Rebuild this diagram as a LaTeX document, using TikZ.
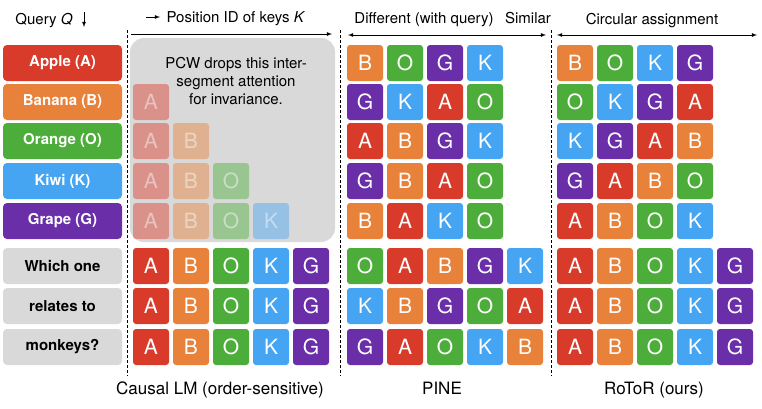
\documentclass[tikz,border=0pt]{standalone}
\usepackage{fontspec}
\setmainfont{TeX Gyre Heros}
\begin{document}
\begin{tikzpicture}[x=1pt,y=-1pt,
 cell/.style={rounded corners=3pt,minimum width=36pt,minimum height=36pt,text=white,font=\fontsize{21}{21}\selectfont,inner sep=0pt},
 lab/.style={rounded corners=4pt,minimum width=119pt,minimum height=36pt,text=white,font=\bfseries\fontsize{15}{15}\selectfont,inner sep=0pt},
 dl/.style={densely dashed,line width=0.6pt},
 hd/.style={font=\fontsize{15}{15}\selectfont,anchor=base},
 ar/.style={line width=0.8pt,-latex}]
\definecolor{cA}{HTML}{D93B2B}\definecolor{cB}{HTML}{E8823A}\definecolor{cO}{HTML}{4DAD3A}
\definecolor{cK}{HTML}{45A5F2}\definecolor{cG}{HTML}{6A2FA8}\definecolor{gr}{HTML}{D9D9D9}
\useasboundingbox (0,0) rectangle (762,408);
\def\ys{{63,102,141,181,221,266,306,347}}
% labels
\foreach \t/\c/\i in {Apple (A)/cA/0,Banana (B)/cB/1,Orange (O)/cO/2,Kiwi (K)/cK/3,Grape (G)/cG/4}{
 \pgfmathsetmacro\yy{\ys[\i]}
 \node[lab,fill=\c] (l\i) at (62.5,\yy) {\t};}
\foreach \t/\i in {Which one/5,relates to/6,monkeys?/7}{
 \pgfmathsetmacro\yy{\ys[\i]}
 \node[lab,fill=gr,text=black] (l\i) at (62.5,\yy) {\t};}
% gray region
\node[fill=gr,rounded corners=14pt,minimum width=205pt,minimum height=204pt,inner sep=0pt] (pcw) at (232.5,140) {};
\node[font=\fontsize{15}{18}\selectfont,align=center] (pcwt) at (236,81) {PCW drops this inter-\\segment attention\\for invariance.};
% helper
\newcommand\rowcells[4]{% x0, rowidx, list, opacity
 \pgfmathsetmacro\yy{\ys[#2]}
 \foreach \L [count=\k from 0] in {#3}{
  \node[cell,fill=c\L,fill opacity=#4,text opacity=#4] at (#1+40*\k,\yy) {\L};}}
% causal
\rowcells{151}{1}{A}{0.45}
\rowcells{151}{2}{A,B}{0.45}
\rowcells{151}{3}{A,B,O}{0.45}
\rowcells{151}{4}{A,B,O,K}{0.45}
\foreach \r in {5,6,7}{\rowcells{151}{\r}{A,B,O,K,G}{1}}
% PINE
\rowcells{365}{0}{B,O,G,K}{1}
\rowcells{365}{1}{G,K,A,O}{1}
\rowcells{365}{2}{A,B,G,K}{1}
\rowcells{365}{3}{G,B,A,O}{1}
\rowcells{365}{4}{B,A,K,O}{1}
\rowcells{365}{5}{O,A,B,G,K}{1}
\rowcells{365}{6}{K,B,G,O,A}{1}
\rowcells{365}{7}{G,A,O,K,B}{1}
% RoToR
\rowcells{575}{0}{B,O,K,G}{1}
\rowcells{575}{1}{O,K,G,A}{1}
\rowcells{575}{2}{K,G,A,B}{1}
\rowcells{575}{3}{G,A,B,O}{1}
\rowcells{575}{4}{A,B,O,K}{1}
\foreach \r in {5,6,7}{\rowcells{575}{\r}{A,B,O,K,G}{1}}
% dashed lines
\foreach \x/\n in {127/a,340/b,551/c}{
 \coordinate (t\n) at (\x,30); \coordinate (b\n) at (\x,376);
 \draw[dl] (t\n) -- (b\n);}
% headers
\node[hd] (hq) at (44,24) {Query $\mathit{Q}$};
\coordinate (qa) at (84,12); \coordinate (qb) at (84,27);
\draw[ar] (qa) -- (qb);
\coordinate (pa) at (146,17); \coordinate (pb) at (160,17);
\draw[ar] (pa) -- (pb);
\node[hd,anchor=base west] (hp) at (163,22) {Position ID of keys $\mathit{K}$};
\coordinate (p1) at (131,34); \coordinate (p2) at (332,34);
\draw[ar] (p1) -- (p2);
\node[hd] (hd1) at (424,23) {Different (with query)};
\node[hd] (hs) at (528,23) {Similar};
\coordinate (d1) at (348,35); \coordinate (d2) at (546,35);
\draw[line width=0.8pt,latex-latex] (d1) -- (d2);
\node[hd] (hc) at (652,24) {Circular assignment};
\coordinate (c1) at (557,35); \coordinate (c2) at (757,35);
\draw[line width=0.8pt,latex-latex] (c1) -- (c2);
% bottom
\node[hd,font=\fontsize{17}{17}\selectfont] (f1) at (220,394) {Causal LM (order-sensitive)};
\node[hd,font=\fontsize{17}{17}\selectfont] (f2) at (442,394) {PINE};
\node[hd,font=\fontsize{17}{17}\selectfont] (f3) at (654,394) {RoToR (ours)};
\end{tikzpicture}
\end{document}
